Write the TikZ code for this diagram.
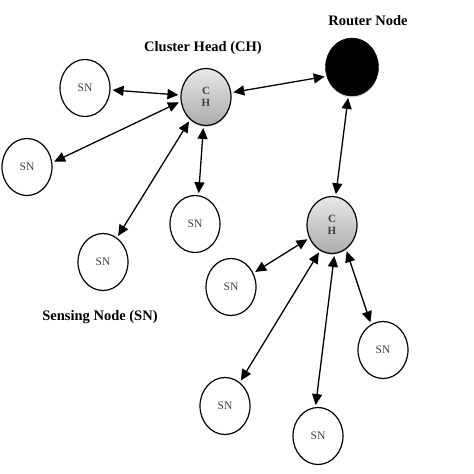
\documentclass[tikz,border=0pt]{standalone}
\usepackage{fontspec}
\setmainfont{Liberation Serif}
\usetikzlibrary{shapes.geometric,arrows.meta,shadows}
\begin{document}
\begin{tikzpicture}[x=1pt,y=-1pt,
  sn/.style={draw=black,ellipse,line width=1.2pt,minimum width=50pt,minimum height=57pt,inner sep=0pt,font=\fontsize{11.5}{12}\selectfont,text=black!75},
  ch/.style={sn,top color=gray!18,bottom color=gray!65,drop shadow={shadow xshift=0pt,shadow yshift=-1.5pt,opacity=0.3},align=center,font=\bfseries\fontsize{11}{12}\selectfont},
  router/.style={draw=black,ellipse,fill=black,minimum width=53pt,minimum height=58pt,inner sep=0pt,drop shadow={shadow xshift=0pt,shadow yshift=-1.5pt,opacity=0.3}},
  lbl/.style={font=\bfseries\fontsize{14.5}{16}\selectfont},
  link/.style={{Triangle[length=11pt,width=10pt]}-{Triangle[length=11pt,width=10pt]},line width=1.3pt,shorten <=2pt,shorten >=2pt}]
\useasboundingbox (0,0) rectangle (474,474);
\node[router] (R) at (352,67) {};
\node[ch] (C1) at (206,97) {C\\H};
\node[ch] (C2) at (332,225) {C\\H};
\node[sn] (S1) at (85,88) {SN};
\node[sn] (S2) at (27,167) {SN};
\node[sn] (S3) at (195,224) {SN};
\node[sn] (S4) at (103,262) {SN};
\node[sn] (S5) at (231,287) {SN};
\node[sn] (S6) at (383,350) {SN};
\node[sn] (S7) at (225,406) {SN};
\node[sn] (S8) at (318,436) {SN};
\node[lbl] (t1) at (203,48) {Cluster Head (CH)};
\node[lbl] (t2) at (368,21) {Router Node};
\node[lbl] (t3) at (100,317) {Sensing Node (SN)};
\draw[link] (S1) -- (C1);
\draw[link] (S2.10) -- (C1.190);
\draw[link] (S4.60) -- (C1.235);
\draw[link] (S3.83) -- (C1.265);
\draw[link] (C1) -- (R.200);
\draw[link] (R) -- (C2);
\draw[link] (C2.210) -- (S5);
\draw[link] (C2.245) -- (S7.58);
\draw[link] (C2.275) -- (S8.95);
\draw[link] (C2.300) -- (S6.115);
\end{tikzpicture}
\end{document}
